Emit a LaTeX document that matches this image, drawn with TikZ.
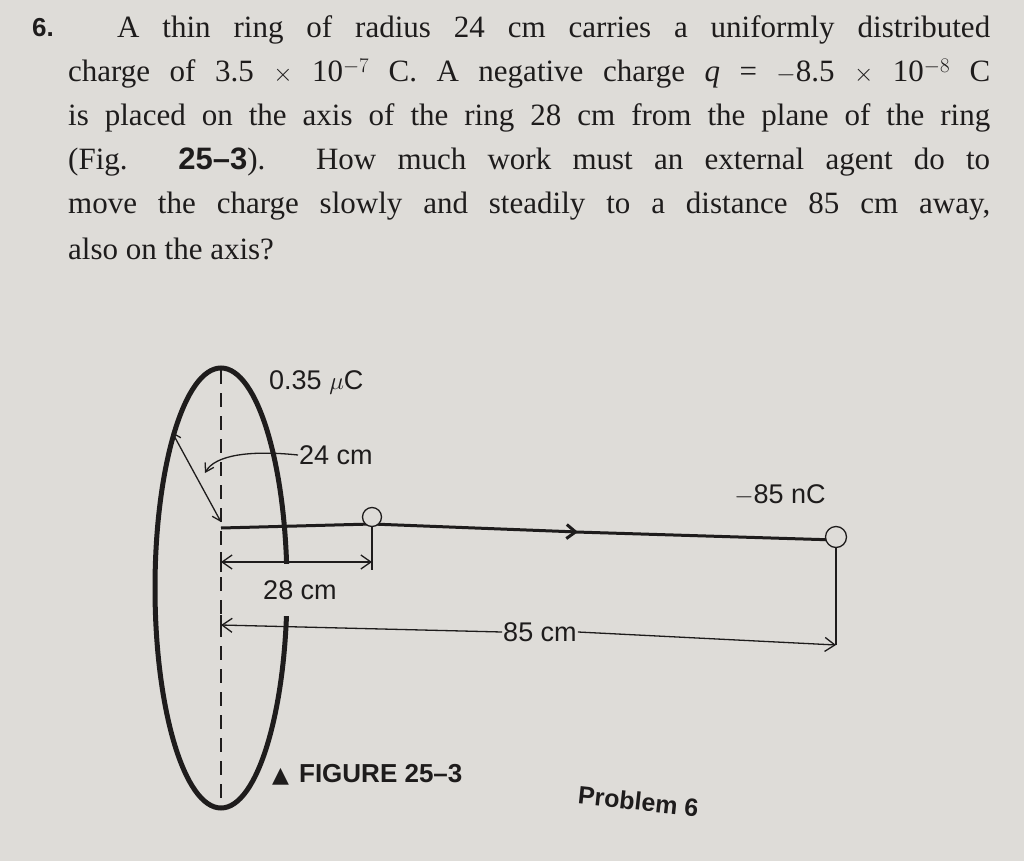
\documentclass[tikz,border=0pt]{standalone}
\usepackage{fontspec}
\setmainfont{Liberation Serif}
\newfontfamily\hand{Liberation Sans}
\newfontfamily\dejavu{DejaVu Sans}
\usetikzlibrary{arrows.meta}
\definecolor{paper}{RGB}{222,220,216}
\definecolor{ink}{RGB}{30,28,28}
\newcommand{\jline}[1]{\parbox{922pt}{\parfillskip=0pt\noindent #1}}
\begin{document}
\begin{tikzpicture}[x=1pt,y=-1pt,
  txt/.style={anchor=west,inner sep=0pt,text=ink,font=\fontsize{31}{33}\selectfont},
  lab/.style={inner sep=1pt,text=ink,font=\hand\fontsize{27}{29}\selectfont},
  thin/.style={draw=ink,line width=1.3pt},
  arr/.style={-{Straight Barb[length=9pt,width=14pt]}}]
\fill[paper] (0,0) rectangle (1024,861);
\useasboundingbox (0,0) rectangle (1024,861);
% text
\node[txt,font=\hand\bfseries\fontsize{26}{28}\selectfont] (n6) at (32,28) {6.};
\node[txt] (l1) at (117,30) {\parbox{873pt}{\parfillskip=0pt\noindent A thin ring of radius 24 cm carries a uniformly distributed}};
\node[txt] (l2) at (68,74) {\jline{charge of 3.5 $\times$ 10$^{-7}$ C. A negative charge \textit{q} = $-$8.5 $\times$ 10$^{-8}$ C}};
\node[txt] (l3) at (68,118) {\jline{is placed on the axis of the ring 28 cm from the plane of the ring}};
\node[txt] (l4) at (68,162) {\jline{(Fig. {\hand\bfseries 25–3}). How much work must an external agent do to}};
\node[txt] (l5) at (68,206) {\jline{move the charge slowly and steadily to a distance 85 cm away,}};
\node[txt] (l6) at (68,249) {also on the axis?};
% ring
\draw[ink,line width=5pt] (221,588) ellipse [x radius=66, y radius=220];
\draw[thin,dashed,dash pattern=on 14pt off 9pt] (221,370) -- (221,805);
% charges
\coordinate (c0) at (221,528);
\coordinate (q1c) at (372,524);
\coordinate (q2c) at (836,540);
\draw[ink,line width=3pt] (c0) -- (q1c);
\draw[ink,line width=3pt,arr] (q1c) -- (578,532);
\draw[ink,line width=3pt] (576,532) -- (q2c);
\node[circle,thin,fill=paper,minimum size=19pt,inner sep=0pt] (q1) at (372,517) {};
\node[circle,thin,fill=paper,minimum size=21pt,inner sep=0pt] (q2) at (836,537) {};
% radius
\coordinate (rt) at (172,432);
\draw[thin,{Straight Barb[length=8pt,width=10pt]}-{Straight Barb[length=8pt,width=10pt]}] (221,522) -- (rt);
\node[lab,anchor=west] (r24) at (298,455) {24 cm};
\draw[thin,-{Straight Barb[length=8pt,width=10pt]}] (r24.west) .. controls (250,450) and (215,455) .. (205,473);
\node[lab,anchor=west] (m1) at (268,382) {0.35 $\mu$C};
\node[lab] (m2) at (780,495) {$-$85 nC};
% 28 cm
\coordinate (t1) at (372,570);
\draw[thin] (q1.south) -- (t1);
\coordinate (d1) at (221,562);
\draw[thin,{Straight Barb[length=10pt,width=14pt]}-{Straight Barb[length=10pt,width=14pt]}] (d1) -- (372,562);
\draw[thin] (221,552) -- (221,572);
\node[lab,fill=paper,inner sep=3pt,minimum height=52pt] (m28) at (300,590) {28 cm};
% 85 cm
\coordinate (b1) at (836,645);
\draw[thin] (q2.south) -- (b1);
\node[lab] (m85) at (540,632) {85 cm};
\draw[thin,{Straight Barb[length=10pt,width=14pt]}-] (221,625) -- (m85.west);
\draw[thin,-{Straight Barb[length=10pt,width=14pt]}] (m85.east) -- (b1);
\draw[thin] (221,615) -- (221,637);
% caption
\node[anchor=west,inner sep=0pt,text=ink] (cap) at (272,775) {{\dejavu\fontsize{22}{24}\selectfont ▲}\hspace{10pt}{\hand\bfseries\fontsize{26}{28}\selectfont FIGURE 25–3}};
\node[anchor=west,inner sep=0pt,text=ink,rotate=-6,font=\hand\bfseries\fontsize{25}{27}\selectfont] (p6) at (578,795) {Problem 6};
\end{tikzpicture}
\end{document}
